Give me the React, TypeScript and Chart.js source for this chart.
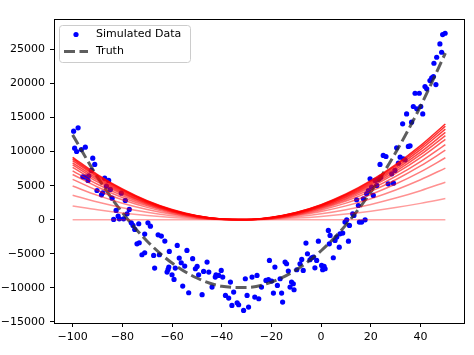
import { useEffect, useRef } from "react";
import { Chart, registerables } from "chart.js";

Chart.register(...registerables);

// Simulated data
const dataX = [
  -99.6, -97.8, -99.2, -98.4, -96.5, -94.9, -91.9, -91.1, -92.5, -95.9, -94.9, -93.5, -93.8,
  -90.2, -88.4, -87.9, -87.1, -85.5, -86.4, -84.8, -84.1, -80.4, -78.8, -82.5, -83.5, -81.7,
  -81.2, -79.5, -78.1, -77.2, -76.4, -75.7, -75.0, -73.4, -69.7, -68.7, -71.0, -73.2, -74.1,
  -65.6, -64.3, -62.9, -72.1, -71.0, -67.4, -67.0, -65.1, -61.1, -57.9, -54.0, -61.3, -61.6,
  -62.0, -60.0, -59.2, -58.7, -57.1, -56.3, -54.9, -51.7, -50.6, -49.9, -49.3, -55.7, -53.3,
  -47.9, -47.3, -45.9, -45.2, -42.6, -42.3, -41.2, -40.2, -39.6, -43.9, -38.5, -37.2, -36.5,
  -35.2, -35.9, -33.8, -33.2, -31.2, -29.2, -29.8, -30.5, -27.8, -25.8, -26.7, -25.1, -24.0,
  -22.2, -21.2, -19.9, -19.2, -17.6, -15.9, -15.5, -16.5, -20.8, -18.6, -14.5, -13.9, -13.2,
  -11.9, -11.2, -10.9, -12.5, -9.8, -8.5, -7.8, -7.2, -6.1, -5.5, -4.5, -3.8, -3.1, -2.5,
  -1.8, -1.1, 0.2, 0.6, 1.2, 1.6, 2.9, 3.6, 3.3, 4.9, 5.6, 6.3, 7.3, 7.6, 8.7, 9.6, 10.3,
  11.0, 11.4, 12.7, 13.2, 14.3, 15.0, 15.4, 16.3, 17.7, 17.0, 18.3, 19.0, 19.7, 20.3, 21.0,
  21.7, 22.6, 23.4, 24.0, 22.4, 23.7, 25.0, 26.1, 27.0, 28.4, 29.1, 29.7, 31.1, 31.8, 33.1,
  33.8, 30.4, 35.1, 35.8, 32.8, 34.4, 36.4, 37.1, 37.8, 38.5, 39.5, 40.1, 40.9, 41.8, 42.5,
  43.8, 44.5, 45.2, 46.2, 45.4, 46.5, 47.8, 48.9, 49.9, 48.5,
];
const dataY = [
  12990, 13480, 10500, 10010, 10300, 10650, 9030, 8110, 7230, 6300, 6250, 6440, 5760,
  4290, 3660, 3950, 6100, 5760, 4930, 4440, 3170, 3900, 2830, 1360, 40, 530,
  140, 140, 870, 1510, -450, -840, -1420, -590, -450, -940, -2110, -3380, -3530,
  -2210, -2400, -3130, -5140, -4840, -5240, -7090, -5140, -4650, -3770, -4500, -6950, -7290,
  -7680, -8070, -8750, -7090, -5630, -6310, -6800, -5720, -7190, -6850, -8070, -9730, -10710,
  -11000, -7580, -6210, -7680, -8410, -8070, -8170, -7440, -8410, -9880, -11100, -11490, -9150,
  -10610, -12570, -12180, -12470, -13300, -12810, -11100, -8660, -8410, -8170, -11340, -11590, -9880,
  -8900, -8800, -9000, -10760, -9640, -10760, -12080, -8660, -5970, -6950, -6210, -6460, -7530,
  -9150, -9390, -10270, -9880, -7340, -6460, -5820, -7440, -3430, -4990, -5870, -5580, -5480, -7050,
  -5970, -3140, -6700, -7340, -6850, -7190, -1570, -2300, -3530, -5580, -3040, -2550, -4020, -2060, -1960, -350, -10,
  -3140, -840, 870, 630, 2930, 2090, -350, -350, -10, 3070, 3800, 4290, 6000, 4780, 3560,
  5760, 5860, 6000, 6250, 5030, 8110, 9430, 9280, 5270, 6740, 5370, 7230, 8300, 9180, 8940,
  8790, 10550, 10750, 10840, 14070, 15530, 14310, 16610, 18560, 16270, 18560, 16610, 15530, 19540, 19200,
  20420, 20810, 21010, 19830, 22960, 23840, 25800, 27170, 27360, 24570,
];

// Grid of x values for the curves
const curveX = [-100, -90, -80, -70, -60, -50, -40, -30, -20, -10, 0, 10, 20, 30, 40, 50];

// Truth curve
const truthY = [12450, 6250, 1050, -3150, -6350, -8550, -9750, -9950, -9150, -7350, -4550, -750, 4050, 9850, 16650, 24450];

// Fitted curves over the iterations
const fit0 = [0, 0, 0, 0, 0, 0, 0, 0, 0, 0, 0, 0, 0, 0, 0, 0];
const fit1 = [2020, 1460, 990, 620, 330, 130, 20, 0, 80, 240, 490, 830, 1260, 1790, 2400, 3100];
const fit2 = [3590, 2600, 1770, 1100, 580, 230, 40, 10, 140, 420, 870, 1480, 2250, 3180, 4260, 5510];
const fit3 = [4940, 3570, 2430, 1510, 800, 320, 50, 10, 190, 580, 1200, 2030, 3090, 4370, 5860, 7580];
const fit4 = [5930, 4290, 2920, 1810, 960, 380, 60, 10, 220, 700, 1440, 2440, 3710, 5240, 7030, 9090];
const fit5 = [6640, 4810, 3270, 2030, 1080, 430, 70, 10, 250, 780, 1610, 2740, 4160, 5870, 7890, 10200];
const fit6 = [7180, 5200, 3530, 2190, 1170, 460, 80, 10, 270, 850, 1740, 2960, 4490, 6350, 8530, 11020];
const fit7 = [7680, 5560, 3780, 2340, 1250, 490, 80, 20, 290, 900, 1860, 3160, 4800, 6790, 9110, 11780];
const fit8 = [8040, 5820, 3950, 2450, 1300, 520, 90, 20, 300, 950, 1950, 3310, 5030, 7100, 9540, 12330];
const fit9 = [8350, 6040, 4110, 2550, 1360, 540, 90, 20, 310, 980, 2030, 3440, 5220, 7380, 9910, 12810];
const fit10 = [8660, 6270, 4260, 2640, 1410, 560, 100, 20, 330, 1020, 2100, 3570, 5420, 7660, 10290, 13300];
const fit11 = [8930, 6470, 4400, 2720, 1450, 580, 100, 20, 340, 1050, 2170, 3680, 5590, 7900, 10600, 13710];
const fit12 = [9160, 6630, 4510, 2790, 1490, 590, 100, 20, 350, 1080, 2220, 3770, 5730, 8100, 10870, 14050];
const fits = [fit0, fit1, fit2, fit3, fit4, fit5, fit6, fit7, fit8, fit9, fit10, fit11, fit12];

const xTicks = [-100, -80, -60, -40, -20, 0, 20, 40];
const yTicks = [-15000, -10000, -5000, 0, 5000, 10000, 15000, 20000, 25000];
const legendLabels = ["Simulated Data", "Truth"];

const FONT = "DejaVu Sans";
const FONT_SIZE = 11;
const TRUTH_COLOR = "rgba(40,40,40,0.75)";

const fmt = (v: number | string) => String(v).replace("-", "\u2212");

const framePlugin = {
  id: "frameLegend",
  afterDraw(chart: any) {
    const { ctx, chartArea: a } = chart;
    ctx.save();
    ctx.strokeStyle = "#000";
    ctx.lineWidth = 1;
    const l = Math.round(a.left) + 0.5;
    const t = Math.round(a.top) + 0.5;
    ctx.strokeRect(l, t, Math.round(a.right) - Math.round(a.left), Math.round(a.bottom) - Math.round(a.top));

    // legend
    const bx = 59.5, by = 25.5, bw = 131, bh = 37;
    ctx.beginPath();
    ctx.roundRect(bx, by, bw, bh, 3);
    ctx.fillStyle = "rgba(255,255,255,0.8)";
    ctx.fill();
    ctx.strokeStyle = "#cccccc";
    ctx.lineWidth = 1;
    ctx.stroke();

    ctx.fillStyle = "#0000ff";
    ctx.beginPath();
    ctx.arc(76, 34.5, 2.6, 0, Math.PI * 2);
    ctx.fill();

    ctx.strokeStyle = TRUTH_COLOR;
    ctx.lineWidth = 3;
    ctx.setLineDash([11, 4.5]);
    ctx.beginPath();
    ctx.moveTo(64, 51.5);
    ctx.lineTo(88, 51.5);
    ctx.stroke();
    ctx.setLineDash([]);

    ctx.fillStyle = "#000";
    ctx.font = `${FONT_SIZE}px "${FONT}"`;
    ctx.textBaseline = "middle";
    ctx.textAlign = "left";
    ctx.fillText(legendLabels[0], 96, 34.5);
    ctx.fillText(legendLabels[1], 96, 51.5);
    ctx.restore();
  },
};

export default function App() {
  const ref = useRef<HTMLCanvasElement>(null);
  useEffect(() => {
    if (!ref.current) return;
    const fitSets = fits.map((f, i) => ({
      label: "fit" + i,
      data: curveX.map((x, j) => ({ x, y: f[j] })),
      showLine: true,
      pointRadius: 0,
      borderWidth: 1.5,
      borderColor: `rgba(255,0,0,${(0.35 + (0.5 * i) / (fits.length - 1)).toFixed(3)})`,
      cubicInterpolationMode: "monotone" as const,
      order: fits.length - i,
    }));
    const chart = new Chart(ref.current, {
      type: "scatter",
      data: {
        datasets: [
          ...fitSets,
          {
            label: legendLabels[1],
            data: curveX.map((x, j) => ({ x, y: truthY[j] })),
            showLine: true,
            pointRadius: 0,
            borderWidth: 3,
            borderColor: TRUTH_COLOR,
            borderDash: [11, 4.5],
            cubicInterpolationMode: "monotone" as const,
            order: 20,
          },
          {
            label: legendLabels[0],
            data: dataX.map((x, j) => ({ x, y: dataY[j] })),
            showLine: false,
            pointRadius: 2.6,
            pointBorderWidth: 0,
            backgroundColor: "#0000ff",
            borderColor: "#0000ff",
            order: 30,
          },
        ],
      },
      options: {
        responsive: false,
        animation: false,
        layout: { padding: { left: 0, right: 10, top: 19, bottom: 0 } },
        plugins: { legend: { display: false }, tooltip: { enabled: false } },
        scales: {
          x: {
            type: "linear",
            min: -107.5,
            max: 57.5,
            afterBuildTicks: (s: any) => {
              s.ticks = xTicks.map((v) => ({ value: v }));
            },
            afterFit: (s: any) => {
              s.height = 32;
            },
            grid: { drawOnChartArea: false, tickLength: 4, tickColor: "#000", color: "#000" },
            border: { display: false },
            ticks: {
              font: { family: FONT, size: FONT_SIZE },
              color: "#000",
              padding: 4,
              maxRotation: 0,
              autoSkip: false,
              callback: (v: any) => fmt(v),
            },
          },
          y: {
            type: "linear",
            min: -15150,
            max: 29450,
            afterBuildTicks: (s: any) => {
              s.ticks = yTicks.map((v) => ({ value: v }));
            },
            afterFit: (s: any) => {
              s.width = 54;
            },
            grid: { drawOnChartArea: false, tickLength: 4, tickColor: "#000", color: "#000" },
            border: { display: false },
            ticks: {
              font: { family: FONT, size: FONT_SIZE },
              color: "#000",
              padding: 5,
              autoSkip: false,
              callback: (v: any) => fmt(v),
            },
          },
        },
      },
      plugins: [framePlugin],
    });
    return () => chart.destroy();
  }, []);
  return (
    <div style={{ position: "absolute", left: 0, top: 0, width: 474, height: 355, background: "#fff" }}>
      <canvas ref={ref} width={474} height={355} />
    </div>
  );
}
